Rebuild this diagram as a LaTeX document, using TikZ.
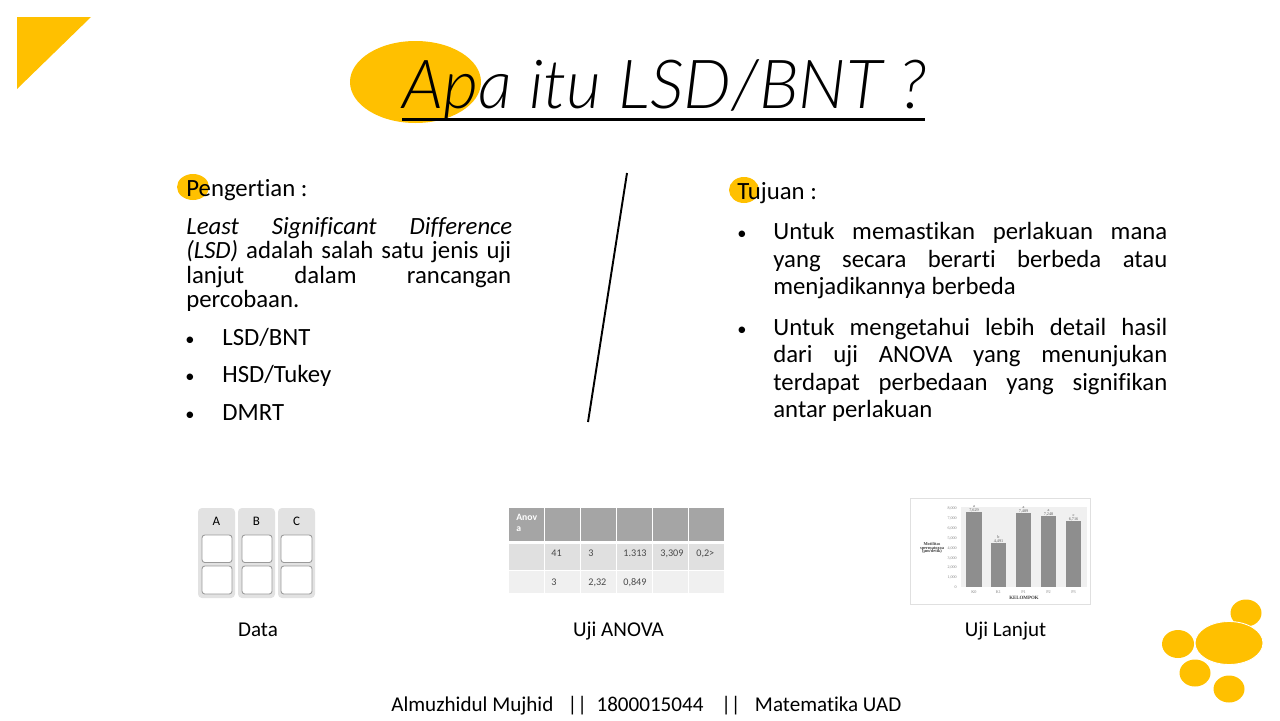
\documentclass[tikz,border=0pt]{standalone}
\usepackage{fontspec}
\setmainfont[Ligatures=NoCommon]{Carlito}
\newfontfamily\titlefont[ItalicFont={Lato Light Italic},UprightFont={Lato Light}]{Lato Light}
\newfontfamily\chartfont{Liberation Serif}
\newcommand{\fs}[1]{\fontsize{#1}{#1}\selectfont}
\newcommand{\jl}[2]{\makebox[#1][s]{#2}}
\definecolor{amber}{HTML}{FFC000}
\definecolor{hdrgray}{HTML}{A5A5A5}
\definecolor{rowone}{HTML}{E0E0E0}
\definecolor{rowtwo}{HTML}{F0F0F0}
\definecolor{colgray}{HTML}{E2E2E2}
\definecolor{boxgray}{HTML}{9A9A9A}
\definecolor{bargray}{HTML}{8E8E8E}
\definecolor{tabtext}{HTML}{4A4A4A}
\tikzset{
  blob/.style={fill=amber,draw=none},
  bodyline/.style={inner sep=0pt,anchor=base west,font=\fs{14.1}},
  bulletmark/.style={inner sep=0pt,anchor=base,font=\fs{10.5}},
  caption/.style={inner sep=0pt,anchor=base,font=\fs{12}},
  colbox/.style={fill=colgray,draw=none,rounded corners=2.2pt},
  cellbox/.style={fill=white,draw=boxgray,line width=0.5pt,rounded corners=1.6pt},
  tabtxt/.style={inner sep=0pt,anchor=base west,text=tabtext,font=\fs{5.8}},
  tick/.style={inner sep=0pt,anchor=east,text=gray,font=\chartfont\fs{2.3}},
  val/.style={inner sep=0pt,anchor=base,align=center,text=gray!70!black,font=\chartfont\fs{2.4}},
}
\begin{document}
\begin{tikzpicture}[x=0.02cm,y=-0.02cm]
\useasboundingbox (0,0) rectangle (1280,720);
% decoration
\fill[blob] (17,17) -- (91,17) -- (17,89) -- cycle;
\fill[blob] (415.5,82) ellipse [x radius=65.5,y radius=41];
\fill[blob] (193,187) ellipse [x radius=16,y radius=13];
\fill[blob] (744,190) ellipse [x radius=15,y radius=13];
\fill[blob] (1246,613) ellipse [x radius=15.5,y radius=13.5];
\fill[blob,draw=white,line width=0.5pt] (1229,643) ellipse [x radius=34,y radius=21.5];
\fill[blob] (1178,644) ellipse [x radius=16,y radius=14];
\fill[blob] (1195,673) ellipse [x radius=15.5,y radius=13.5];
\fill[blob] (1229,689) ellipse [x radius=15.5,y radius=13.5];
% title
\node (title) [inner sep=0pt,anchor=base west,font=\titlefont\fs{38.5}\itshape] at (402,108) {Apa itu LSD/BNT ?};
\coordinate (ulA) at (402,119.5);
\coordinate (ulB) at (925,119.5);
\draw[line width=2pt] (ulA) -- (ulB);
% divider
\coordinate (divA) at (627,173);
\coordinate (divB) at (588,422);
\draw[line width=1.1pt] (divA) -- (divB);
% left column
\node (pengertian) [bodyline] at (186,196) {Pengertian :};
\node (def1) [bodyline] at (186,234) {\jl{6.52cm}{\textit{Least Significant Difference}}};
\node (def2) [bodyline] at (186,258) {\jl{6.5cm}{\textit{(LSD)} adalah salah satu jenis uji}};
\node (def3) [bodyline] at (186,283) {\jl{6.5cm}{lanjut dalam rancangan}};
\node (def4) [bodyline] at (186,307) {percobaan.};
\node (bl1) [bulletmark] at (190,345) {•};
\node (bt1) [bodyline] at (222,345) {LSD/BNT};
\node (bl2) [bulletmark] at (190,382) {•};
\node (bt2) [bodyline] at (222,382) {HSD/Tukey};
\node (bl3) [bulletmark] at (190,420) {•};
\node (bt3) [bodyline] at (222,420) {DMRT};
% right column
\node (tujuan) [bodyline] at (737,199) {Tujuan :};
\node (rb1) [bulletmark] at (742,239) {•};
\node (r1) [bodyline] at (773,239) {\jl{7.88cm}{Untuk memastikan perlakuan mana}};
\node (r2) [bodyline] at (773,267) {\jl{7.88cm}{yang secara berarti berbeda atau}};
\node (r3) [bodyline] at (773,294) {menjadikannya berbeda};
\node (rb2) [bulletmark] at (742,335) {•};
\node (r4) [bodyline] at (773,335) {\jl{7.88cm}{Untuk mengetahui lebih detail hasil}};
\node (r5) [bodyline] at (773,362) {\jl{7.88cm}{dari uji ANOVA yang menunjukan}};
\node (r6) [bodyline] at (773,390) {\jl{7.88cm}{terdapat perbedaan yang signifikan}};
\node (r7) [bodyline] at (773,417) {antar perlakuan};
% data table
\foreach \xa/\xb/\ia/\ib/\lab in {198/235/202/232/A,238/275/242/272/B,278/315/281/312/C}{
  \draw[colbox] (\xa,508) rectangle (\xb,598);
  \draw[cellbox] (\ia,535) rectangle (\ib,562.5);
  \draw[cellbox] (\ia,566) rectangle (\ib,594);
  \node (col\lab) [inner sep=0pt,font=\fs{7.4}] at ({(\xa+\xb)/2},521.5) {\lab};
}
% anova table
\foreach \xa/\xb in {509/544,545/580,581/616,617/652,653/688,689/724}{
  \fill[hdrgray] (\xa,508) rectangle (\xb,541);
  \fill[rowone] (\xa,544) rectangle (\xb,569.5);
  \fill[rowtwo] (\xa,571) rectangle (\xb,593);
}
\node (anovaA) [tabtxt,text=white,font=\fs{5.5}\bfseries] at (516,520) {Anov};
\node (anovaB) [tabtxt,text=white,font=\fs{5.5}\bfseries] at (516,531) {a};
\node (t11) [tabtxt] at (551,556) {41};
\node (t12) [tabtxt] at (588,556) {3};
\node (t13) [tabtxt] at (623,556) {1.313};
\node (t14) [tabtxt] at (660,556) {3,309};
\node (t15) [tabtxt] at (696,556) {0,2>};
\node (t21) [tabtxt] at (551,585) {3};
\node (t22) [tabtxt] at (588,585) {2,32};
\node (t23) [tabtxt] at (623,585) {0,849};
% chart
\draw[draw=black!12,line width=0.4pt,fill=white] (910,498) rectangle (1090,604);
\fill[rowtwo] (961,507) rectangle (1087,587);
\foreach \xa/\xb/\yt/\tx/\ty/\lab/\vv in {966/982/512/K0/974/a/{7,629},991/1006/543/K1/998.5/b/{4,491},1016/1031/513/P1/1023.5/a/{7,489},1041/1056/516/P2/1048.5/a/{7,248},1066/1081/521/P3/1073.5/c/{6,716}}{
  \fill[bargray] (\xa,\yt) rectangle (\xb,587);
  \node (v\tx) [val] at (\ty,\yt-1) {\lab\\[-0.4pt]\vv};
  \node (n\tx) [inner sep=0pt,text=gray,font=\chartfont\fs{2.4}] at (\ty,592) {\tx};
}
\foreach \v/\yy in {{8,000}/508,{7,000}/518,{6,000}/528,{5,000}/538,{4,000}/548,{3,000}/558,{2,000}/567,{1,000}/577,0/587}{
  \node [tick] at (957,\yy) {\v};
}
\node (ylab) [inner sep=0pt,align=center,text=black!75,font=\chartfont\bfseries\fs{2.5}] at (932,548) {Motilitas\\[-0.3pt]spermatozoa\\[-0.3pt](µm/detik)};
\node (xlab) [inner sep=0pt,text=black!75,font=\chartfont\bfseries\fs{2.8}] at (1024,598) {KELOMPOK};
% captions
\node (capA) [caption] at (258,636) {Data};
\node (capB) [caption] at (618.5,636) {Uji ANOVA};
\node (capC) [caption] at (1005.5,636) {Uji Lanjut};
\node (footer) [caption,anchor=base west] at (391,711) {Almuzhidul Mujhid\ \ \ ||\ \ 1800015044\ \ \ \,||\ \ \ Matematika UAD};
\end{tikzpicture}
\end{document}
